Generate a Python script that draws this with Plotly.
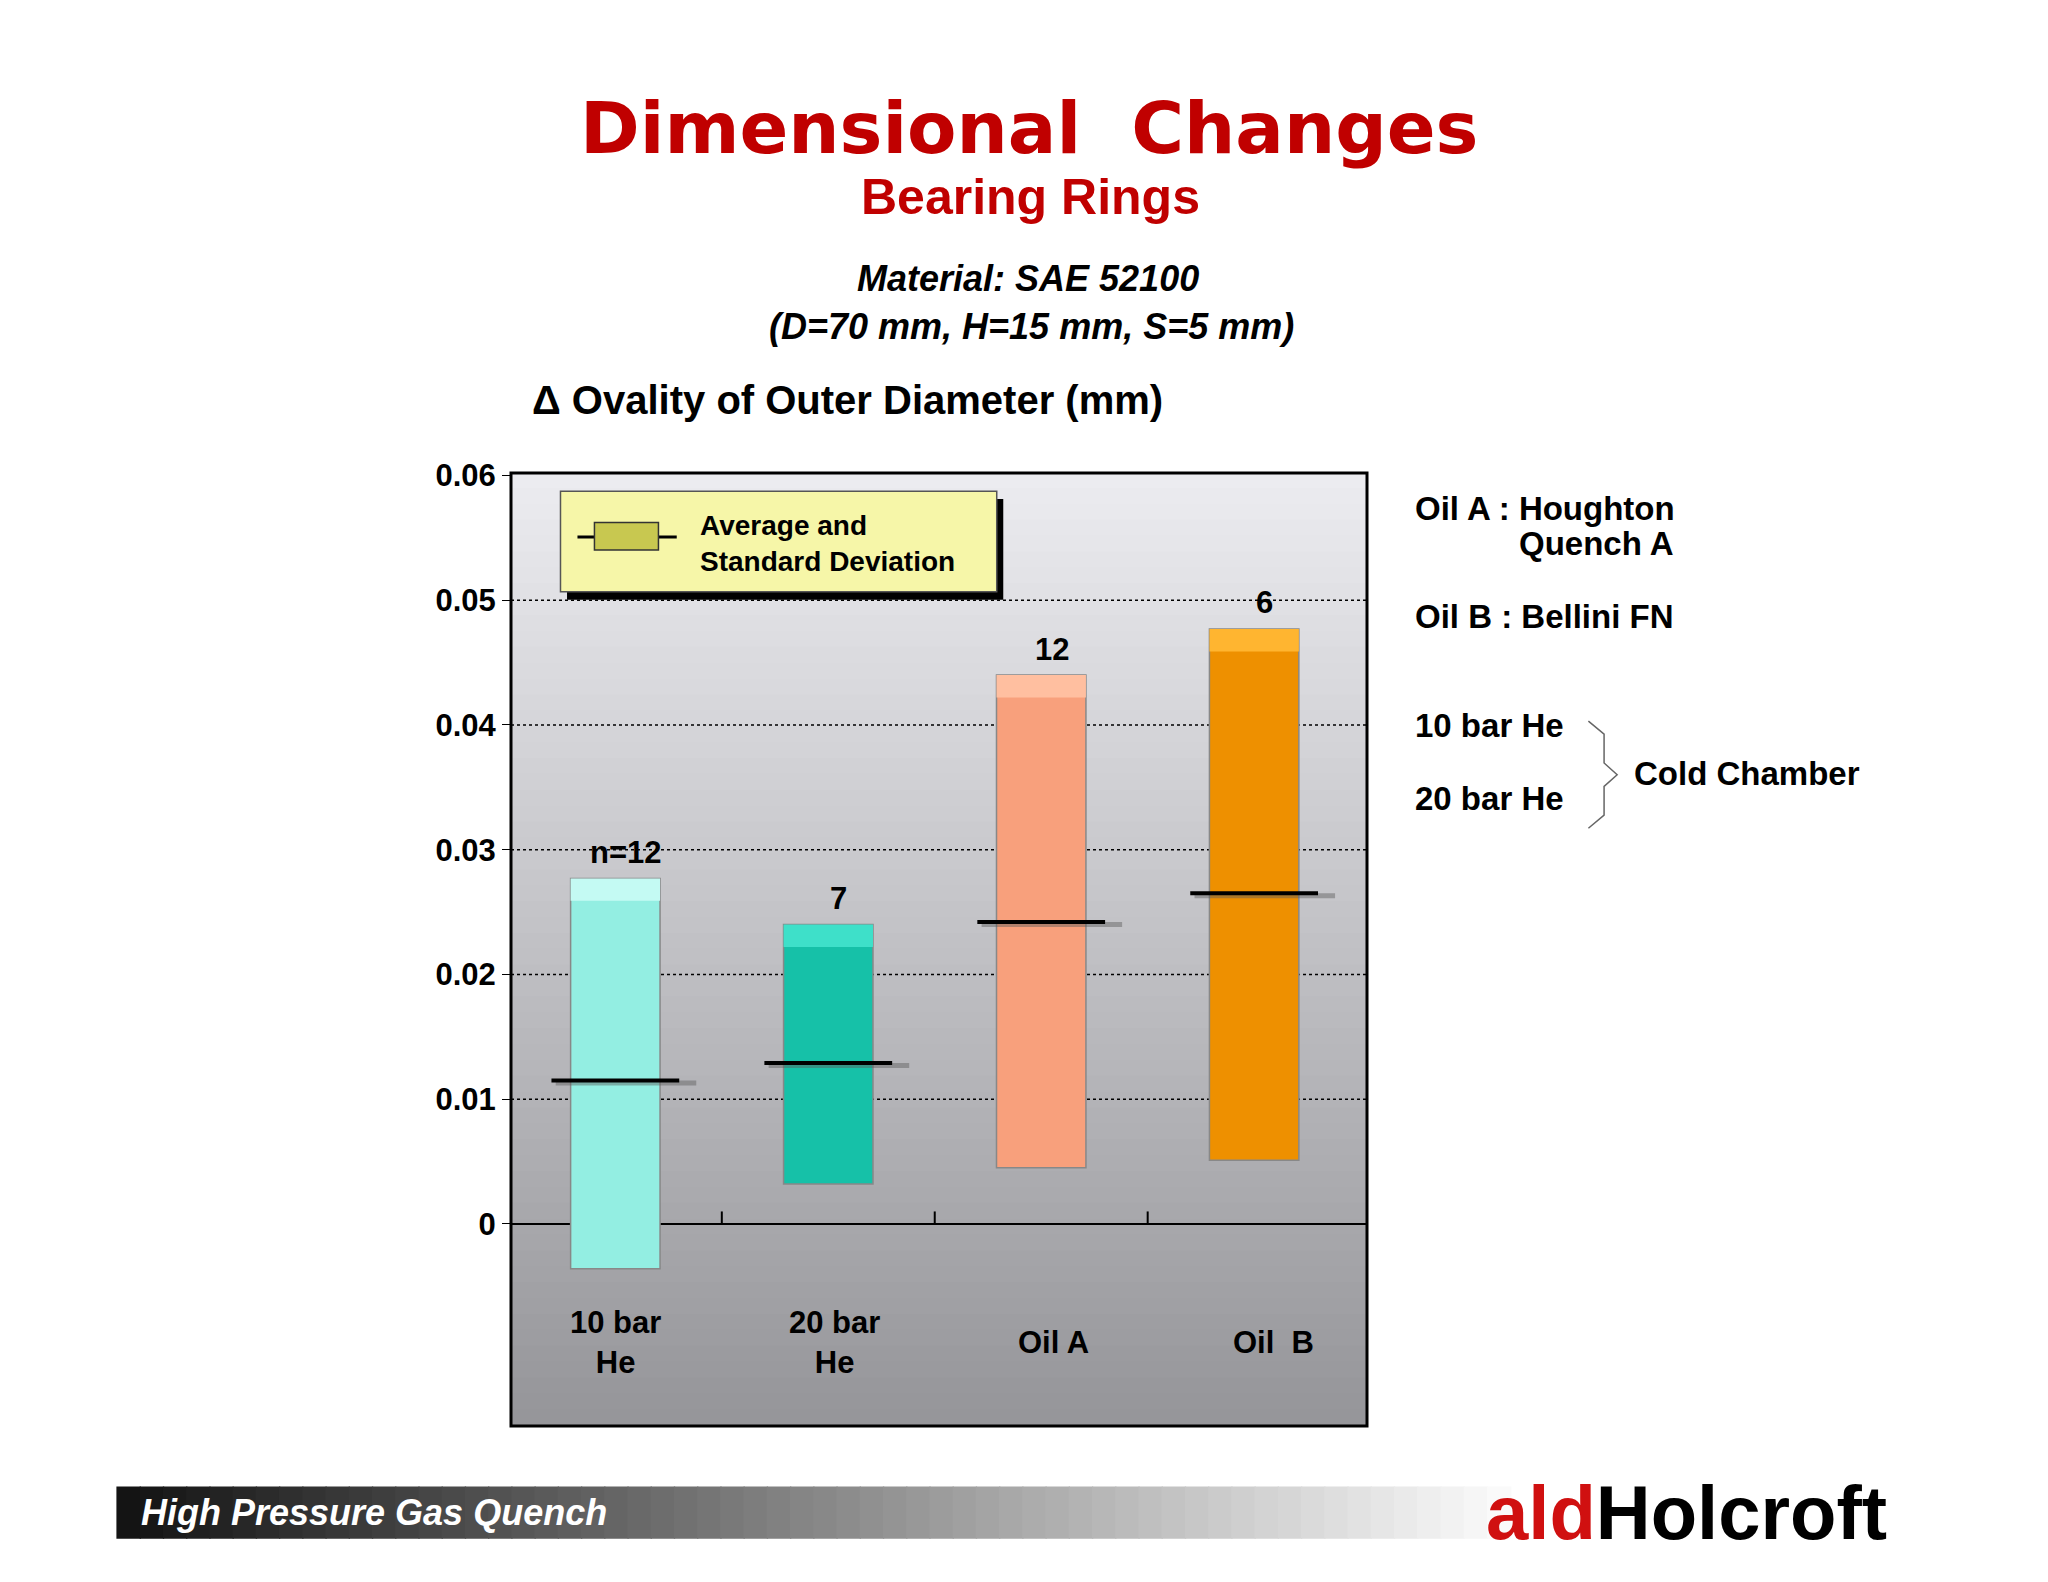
import plotly.graph_objects as go

# data
categories = ["10 bar<br>He", "20 bar<br>He", "Oil A", "Oil  B"]
low = [-0.0036, 0.0032, 0.0045, 0.0051]
high = [0.0277, 0.0240, 0.0440, 0.0477]
mean = [0.0115, 0.0129, 0.0242, 0.0265]
counts = ["n=12", "7", "12", "6"]
bar_colors = ["#93eee2", "#16c1a8", "#f8a07c", "#ee9000"]
bar_tops = ["#c4faf3", "#3ee0c9", "#ffbfa0", "#ffb530"]
yticks = [0, 0.01, 0.02, 0.03, 0.04, 0.05, 0.06]

W, H = 2048, 1582
S = W / 1568.0
L, R, T, B = 503, 689, 465, 164
pw, ph = W - L - R, H - T - B


def P(x, y):
    # displayed-pixel -> paper coords
    return (x * S - L) / pw, 1 - (y * S - T) / ph


fig = go.Figure()
xs = list(range(len(categories)))

fig.add_trace(go.Bar(x=xs, y=[h - l for h, l in zip(high, low)], base=low,
                     width=0.42, marker=dict(color=bar_colors, line=dict(width=1.5, color="#888")),
                     hoverinfo="skip"))
# lighter cap at the top of each bar
fig.add_trace(go.Bar(x=xs, y=[0.0018] * 4, base=[h - 0.0018 for h in high],
                     width=0.42, marker=dict(color=bar_tops, line=dict(width=0)), hoverinfo="skip"))

for i, m in enumerate(mean):
    fig.add_trace(go.Scatter(x=[i - 0.28, i + 0.38], y=[m - 0.0002] * 2, mode="lines",
                             line=dict(color="rgba(90,90,90,0.45)", width=5), hoverinfo="skip"))
    fig.add_trace(go.Scatter(x=[i - 0.3, i + 0.3], y=[m, m], mode="lines",
                             line=dict(color="black", width=4), hoverinfo="skip"))

shapes = []
# gradient background
n = 60
for k in range(n):
    c = int(236 - (236 - 150) * k / (n - 1))
    shapes.append(dict(type="rect", xref="paper", yref="paper", x0=0, x1=1,
                       y0=1 - (k + 1) / n, y1=1 - k / n + 0.001, layer="below",
                       line=dict(width=0), fillcolor=f"rgb({c},{c},{c + 4})"))
for v in yticks[1:-1]:
    shapes.append(dict(type="line", xref="paper", x0=0, x1=1, y0=v, y1=v, layer="below",
                       line=dict(color="black", width=1.5, dash="dot")))
shapes.append(dict(type="line", xref="paper", x0=0, x1=1, y0=0, y1=0,
                   line=dict(color="black", width=2), layer="below"))
for t in [0.5, 1.5, 2.5]:
    shapes.append(dict(type="line", x0=t, x1=t, y0=0, y1=0.001, line=dict(color="black", width=2)))
shapes.append(dict(type="rect", xref="paper", yref="paper", x0=0, x1=1, y0=0, y1=1,
                   line=dict(color="black", width=3)))
# legend box with shadow
a0, a1 = P(428, 376), P(762, 453)
shapes.append(dict(type="rect", xref="paper", yref="paper", x0=a0[0], y0=a1[1], x1=a1[0], y1=a0[1],
                   fillcolor="black", line=dict(width=0)))
b0, b1 = P(423, 370), P(757, 447)
shapes.append(dict(type="rect", xref="paper", yref="paper", x0=b0[0], y0=b1[1], x1=b1[0], y1=b0[1],
                   fillcolor="#f6f6a8", line=dict(color="#555", width=1.5)))
c0, c1 = P(436, 405), P(512, 405)
shapes.append(dict(type="line", xref="paper", yref="paper", x0=c0[0], y0=c0[1], x1=c1[0], y1=c1[1],
                   line=dict(color="black", width=3)))
d0, d1 = P(449, 394), P(498, 415)
shapes.append(dict(type="rect", xref="paper", yref="paper", x0=d0[0], y0=d1[1], x1=d1[0], y1=d0[1],
                   fillcolor="#c8c850", line=dict(color="#333", width=1.5)))
# brace
e = [P(1210, 546), P(1222, 556), P(1222, 578), P(1232, 587), P(1222, 596), P(1222, 618), P(1210, 628)]
path = "M " + " L ".join(f"{x},{y}" for x, y in e)
shapes.append(dict(type="path", xref="paper", yref="paper", path=path, line=dict(color="#666", width=1.5)))
# footer gradient bar
m = 60
for k in range(m):
    c = int(20 + (250 - 20) * k / (m - 1))
    f0, f1 = P(83 + (1150 - 83) * k / m, 1132), P(83 + (1150 - 83) * (k + 1) / m + 1, 1172)
    shapes.append(dict(type="rect", xref="paper", yref="paper", x0=f0[0], x1=f1[0], y0=f1[1], y1=f0[1],
                       line=dict(width=0), fillcolor=f"rgb({c},{c},{c})"))

ann = []


def text(x, y, s, size, color="black", bold=True, italic=False, xanchor="center", family="Liberation Sans"):
    px, py = P(x, y)
    if italic:
        s = f"<i>{s}</i>"
    if bold:
        s = f"<b>{s}</b>"
    ann.append(dict(xref="paper", yref="paper", x=px, y=py, text=s, showarrow=False, xanchor=xanchor,
                    yanchor="middle", align="left", font=dict(size=size, color=color, family=family)))


text(782, 92, "Dimensional  Changes", 72, "#c00000", family="DejaVu Sans")
text(783, 145, "Bearing Rings", 50, "#c00000")
text(781, 207, "Material: SAE 52100", 36, italic=True)
text(784, 244, "(D=70 mm, H=15 mm, S=5 mm)", 36, italic=True)
text(400, 300, "Δ Ovality of Outer Diameter (mm)", 40, xanchor="left")
text(528, 410, "Average and<br>Standard Deviation", 28, xanchor="left")
text(1076, 383, "Oil A : Houghton", 33, xanchor="left")
text(1155, 410, "Quench A", 33, xanchor="left")
text(1076, 466, "Oil B : Bellini FN", 33, xanchor="left")
text(1076, 549, "10 bar He", 33, xanchor="left")
text(1076, 605, "20 bar He", 33, xanchor="left")
text(1243, 586, "Cold Chamber", 33, xanchor="left")
text(100, 1152, "High Pressure Gas Quench", 36, "white", italic=True, xanchor="left")
text(1130, 1152, "<span style='color:#d01010'>ald</span>Holcroft", 76, xanchor="left")

for i, c in enumerate(counts):
    ann.append(dict(x=i + 0.05, y=high[i], yshift=26, text=f"<b>{c}</b>", showarrow=False,
                    font=dict(size=31, color="black", family="Liberation Sans")))
for i, c in enumerate(categories):
    ann.append(dict(x=i + 0.03 * i, y=-0.0095, text=f"<b>{c}</b>", showarrow=False,
                    font=dict(size=31, color="black", family="Liberation Sans")))

fig.update_layout(
    width=W, height=H, margin=dict(l=L, r=R, t=T, b=B), showlegend=False,
    paper_bgcolor="white", plot_bgcolor="rgba(0,0,0,0)", barmode="overlay",
    shapes=shapes, annotations=ann,
    xaxis=dict(range=[-0.49, 3.53], showticklabels=False, showgrid=False, zeroline=False),
    yaxis=dict(range=[-0.0162, 0.0602], tickvals=yticks, ticktext=[f"<b>{v:g}</b>" for v in yticks],
               tickfont=dict(size=31, color="black", family="Liberation Sans"),
               showgrid=False, zeroline=False, ticks="outside", ticklen=8, tickcolor="black"),
)
fig.write_html("out.html")
